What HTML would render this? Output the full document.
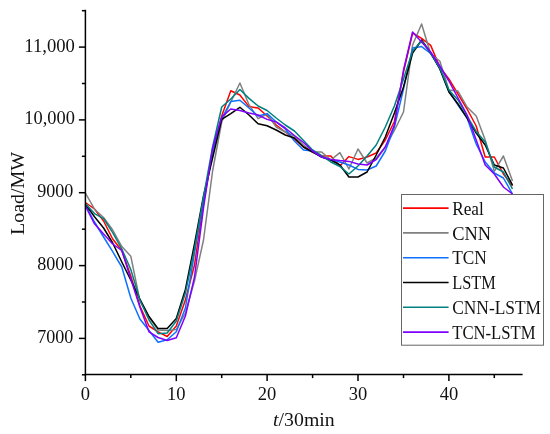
<!DOCTYPE html>
<html><head><meta charset="utf-8"><title>Load forecast</title>
<style>
html,body{margin:0;padding:0;background:#fff;}
svg{display:block;}
text{font-family:"Liberation Serif","DejaVu Serif",serif;fill:#111;}
.tk{font-size:19px;}
.tkx{font-size:18.5px;}
.lg{font-size:18.1px;}
.ax{font-size:19.2px;}
</style></head><body>
<svg width="550" height="434" viewBox="0 0 550 434">
<rect width="550" height="434" fill="#fff"/>

<g fill="none" stroke-width="1.5" stroke-linejoin="round" stroke-linecap="butt">
<polyline stroke="#ff0000" points="85.4,202.5 94.5,209.0 103.6,221.0 112.7,239.0 121.8,250.5 130.8,276.0 139.9,306.0 149.0,326.0 158.1,331.8 167.2,336.5 176.3,326.0 185.4,300.0 194.5,265.0 203.5,203.0 212.6,152.0 221.7,116.0 230.8,90.7 239.9,95.0 249.0,106.6 258.1,108.0 267.1,116.0 276.2,125.0 285.3,132.0 294.4,139.0 303.5,147.0 312.6,152.0 321.7,156.0 330.8,156.0 339.9,166.0 348.9,156.6 358.0,159.4 367.1,157.0 376.2,153.0 385.3,140.0 394.4,121.5 403.5,72.0 412.6,33.0 421.6,38.4 430.7,45.4 439.8,67.0 448.9,79.0 458.0,94.0 467.1,109.0 476.2,126.0 485.2,157.0 494.3,157.0 503.4,174.0 512.5,186.0"/>
<polyline stroke="#808080" points="85.4,193.0 94.5,209.2 103.6,217.5 112.7,230.0 121.8,246.6 130.8,256.2 139.9,301.0 149.0,317.0 158.1,330.0 167.2,330.5 176.3,329.5 185.4,313.0 194.5,281.0 203.5,240.0 212.6,171.0 221.7,122.0 230.8,102.0 239.9,83.0 249.0,104.7 258.1,118.7 267.1,114.0 276.2,127.0 285.3,132.0 294.4,136.0 303.5,145.0 312.6,152.0 321.7,152.0 330.8,160.0 339.9,152.6 348.9,169.0 358.0,149.0 367.1,163.0 376.2,158.0 385.3,147.0 394.4,130.5 403.5,112.0 412.6,45.0 421.6,24.0 430.7,54.0 439.8,61.0 448.9,90.0 458.0,91.0 467.1,107.0 476.2,116.0 485.2,140.0 494.3,171.3 503.4,156.0 512.5,181.0"/>
<polyline stroke="#0f6fff" points="85.4,205.0 94.5,222.0 103.6,237.0 112.7,251.7 121.8,267.0 130.8,298.0 139.9,319.0 149.0,330.5 158.1,342.3 167.2,339.7 176.3,331.8 185.4,308.0 194.5,253.0 203.5,200.0 212.6,152.0 221.7,118.7 230.8,101.5 239.9,100.3 249.0,108.0 258.1,116.0 267.1,113.6 276.2,122.0 285.3,129.0 294.4,141.0 303.5,150.0 312.6,151.0 321.7,157.0 330.8,160.0 339.9,162.0 348.9,165.0 358.0,169.4 367.1,170.0 376.2,166.0 385.3,151.0 394.4,127.0 403.5,89.0 412.6,48.0 421.6,46.6 430.7,53.5 439.8,68.0 448.9,91.0 458.0,105.0 467.1,118.0 476.2,144.0 485.2,162.0 494.3,173.0 503.4,178.0 512.5,194.0"/>
<polyline stroke="#000000" points="85.4,204.0 94.5,216.8 103.6,228.0 112.7,243.0 121.8,262.0 130.8,280.0 139.9,299.0 149.0,316.5 158.1,328.6 167.2,328.6 176.3,318.5 185.4,289.5 194.5,244.0 203.5,196.0 212.6,158.0 221.7,119.4 230.8,113.6 239.9,107.3 249.0,115.0 258.1,123.8 267.1,125.7 276.2,130.0 285.3,135.0 294.4,138.0 303.5,147.0 312.6,152.0 321.7,157.0 330.8,160.0 339.9,165.0 348.9,177.0 358.0,177.0 367.1,172.0 376.2,155.0 385.3,137.0 394.4,113.0 403.5,87.0 412.6,53.0 421.6,40.0 430.7,53.0 439.8,69.0 448.9,92.0 458.0,104.0 467.1,118.0 476.2,133.0 485.2,145.0 494.3,165.0 503.4,168.0 512.5,185.0"/>
<polyline stroke="#008080" points="85.4,203.4 94.5,213.6 103.6,218.7 112.7,232.6 121.8,249.0 130.8,269.5 139.9,300.0 149.0,320.0 158.1,333.7 167.2,333.0 176.3,321.0 185.4,293.0 194.5,249.5 203.5,197.0 212.6,147.0 221.7,107.0 230.8,99.0 239.9,89.5 249.0,98.4 258.1,106.0 267.1,110.5 276.2,118.0 285.3,125.0 294.4,131.0 303.5,140.5 312.6,150.0 321.7,155.7 330.8,162.0 339.9,166.5 348.9,174.0 358.0,166.0 367.1,156.0 376.2,145.0 385.3,127.0 394.4,106.0 403.5,79.0 412.6,51.0 421.6,41.0 430.7,53.0 439.8,68.0 448.9,90.0 458.0,100.0 467.1,116.0 476.2,131.5 485.2,142.0 494.3,167.0 503.4,172.0 512.5,189.0"/>
<polyline stroke="#7f00ff" points="85.4,206.0 94.5,223.8 103.6,234.0 112.7,244.0 121.8,250.5 130.8,279.0 139.9,307.0 149.0,331.8 158.1,337.5 167.2,340.5 176.3,337.8 185.4,316.0 194.5,277.0 203.5,208.0 212.6,148.0 221.7,117.0 230.8,109.0 239.9,110.5 249.0,113.0 258.1,115.0 267.1,119.4 276.2,122.0 285.3,128.0 294.4,135.5 303.5,142.5 312.6,151.0 321.7,157.0 330.8,159.4 339.9,160.6 348.9,161.4 358.0,164.0 367.1,165.0 376.2,159.5 385.3,147.0 394.4,125.0 403.5,70.0 412.6,32.0 421.6,42.0 430.7,52.0 439.8,66.0 448.9,81.0 458.0,98.0 467.1,115.0 476.2,140.0 485.2,165.0 494.3,174.0 503.4,187.0 512.5,194.0"/>
</g>
<g stroke="#000" stroke-width="1.5" fill="none">
<path d="M85.4 9.8 V374.6 H522.6"/>
<path d="M85.4 374.8 H81.9"/>
<path d="M85.4 338.4 H78.9"/>
<path d="M85.4 302.0 H81.9"/>
<path d="M85.4 265.6 H78.9"/>
<path d="M85.4 229.2 H81.9"/>
<path d="M85.4 192.7 H78.9"/>
<path d="M85.4 156.3 H81.9"/>
<path d="M85.4 119.9 H78.9"/>
<path d="M85.4 83.5 H81.9"/>
<path d="M85.4 47.1 H78.9"/>
<path d="M85.4 10.7 H81.9"/>
<path d="M85.4 374.6 V381.1"/>
<path d="M130.8 374.6 V378.1"/>
<path d="M176.3 374.6 V381.1"/>
<path d="M221.7 374.6 V378.1"/>
<path d="M267.1 374.6 V381.1"/>
<path d="M312.6 374.6 V378.1"/>
<path d="M358.0 374.6 V381.1"/>
<path d="M403.5 374.6 V378.1"/>
<path d="M448.9 374.6 V381.1"/>
<path d="M494.3 374.6 V378.1"/>
</g>
<text class="tk" x="24.3" y="51.5" textLength="50.6" lengthAdjust="spacingAndGlyphs">11,000</text>
<text class="tk" x="24.3" y="124.3" textLength="50.6" lengthAdjust="spacingAndGlyphs">10,000</text>
<text class="tk" x="37.2" y="197.1" textLength="36.2" lengthAdjust="spacingAndGlyphs">9000</text>
<text class="tk" x="37.2" y="270.0" textLength="36.2" lengthAdjust="spacingAndGlyphs">8000</text>
<text class="tk" x="37.2" y="342.8" textLength="36.2" lengthAdjust="spacingAndGlyphs">7000</text>
<text class="tkx" x="85.4" y="399.9" text-anchor="middle">0</text>
<text class="tkx" x="176.3" y="399.9" text-anchor="middle">10</text>
<text class="tkx" x="267.1" y="399.9" text-anchor="middle">20</text>
<text class="tkx" x="358.0" y="399.9" text-anchor="middle">30</text>
<text class="tkx" x="448.9" y="399.9" text-anchor="middle">40</text>
<text class="ax" x="273.1" y="426.2" textLength="61.6" lengthAdjust="spacingAndGlyphs"><tspan font-style="italic">t</tspan>/30min</text>
<text class="ax" transform="translate(23.6,235) rotate(-90)" textLength="83.2" lengthAdjust="spacingAndGlyphs">Load/MW</text>
<rect x="401.5" y="194.5" width="142" height="150.7" fill="#fff" stroke="#666" stroke-width="1"/>
<path d="M403 208.1 H448.6" stroke="#ff0000" stroke-width="1.6" fill="none"/>
<text class="lg" x="452.2" y="214.8" textLength="31.6" lengthAdjust="spacingAndGlyphs">Real</text>
<path d="M403 232.9 H448.6" stroke="#808080" stroke-width="1.6" fill="none"/>
<text class="lg" x="452.2" y="239.6" textLength="38.8" lengthAdjust="spacingAndGlyphs">CNN</text>
<path d="M403 257.7 H448.6" stroke="#0f6fff" stroke-width="1.6" fill="none"/>
<text class="lg" x="452.2" y="264.4" textLength="34.6" lengthAdjust="spacingAndGlyphs">TCN</text>
<path d="M403 282.5 H448.6" stroke="#000000" stroke-width="1.6" fill="none"/>
<text class="lg" x="452.2" y="289.2" textLength="43.6" lengthAdjust="spacingAndGlyphs">LSTM</text>
<path d="M403 307.3 H448.6" stroke="#008080" stroke-width="1.6" fill="none"/>
<text class="lg" x="452.2" y="314.0" textLength="88.9" lengthAdjust="spacingAndGlyphs">CNN-LSTM</text>
<path d="M403 332.1 H448.6" stroke="#7f00ff" stroke-width="1.6" fill="none"/>
<text class="lg" x="452.2" y="338.8" textLength="83.4" lengthAdjust="spacingAndGlyphs">TCN-LSTM</text>
</svg></body></html>
